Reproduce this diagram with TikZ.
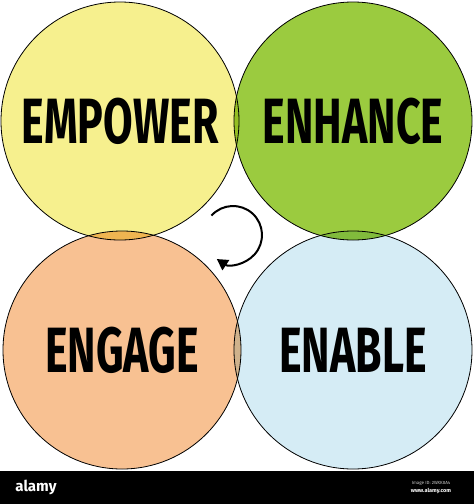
\documentclass[tikz,border=0pt]{standalone}
\usepackage{fontspec}
\usepackage{xcolor}
\newfontfamily\handfont[FakeStretch=0.67]{Fira Sans}
\newfontfamily\barfont{Fira Sans}
\usetikzlibrary{arrows.meta}

\definecolor{empoweryellow}{HTML}{F6F08E}
\definecolor{enhancegreen}{HTML}{9BCB3F}
\definecolor{engageorange}{HTML}{F8C192}
\definecolor{enableblue}{HTML}{D5ECF5}

\tikzset{
    petal/.style={circle, draw=black, line width=0.8pt, minimum size=238pt, inner sep=0pt},
    word/.style={font=\handfont\bfseries\fontsize{64}{64}\selectfont},
}

\begin{document}
\begin{tikzpicture}[x=1pt,y=-1pt]
    \useasboundingbox (0,0) rectangle (474,504);
    \fill[white] (0,0) rectangle (474,504);

    % the four circles, blended where they overlap
    \begin{scope}[blend mode=multiply]
        \node[petal, fill=empoweryellow] (empowerdisc) at (120,121) {};
        \node[petal, fill=enhancegreen] (enhancedisc) at (353,121) {};
        \node[petal, fill=engageorange] (engagedisc) at (122,350) {};
        \node[petal, fill=enableblue] (enabledisc) at (353,350) {};
    \end{scope}

    \node[word] (empower) at (empowerdisc.center) {EMPOWER};
    \node[word] (enhance) at (enhancedisc.center) {ENHANCE};
    \node[word] (engage) at (engagedisc.center) {ENGAGE};
    \node[word] (enable) at (enabledisc.center) {ENABLE};

    % cycle arrow in the middle
    \coordinate (cyc) at (233,235);
    \draw[line width=2pt, -{Triangle[length=11pt,width=12pt]}]
        (cyc) ++(222:29) arc[start angle=222, end angle=484, radius=29];

    % bottom bar
    \fill[black] (0,471) rectangle (474,504);
    \node[text=white, font=\barfont\bfseries\fontsize{15}{15}\selectfont] (barlogo) at (36,487) {alamy};
    \node[text=white!80!black, font=\barfont\fontsize{4.5}{5}\selectfont] (barid) at (431,483) {Image ID: 2WXK0A4};
    \node[text=white, font=\barfont\bfseries\fontsize{5.5}{6}\selectfont] (barurl) at (431,491) {www.alamy.com};
\end{tikzpicture}
\end{document}
